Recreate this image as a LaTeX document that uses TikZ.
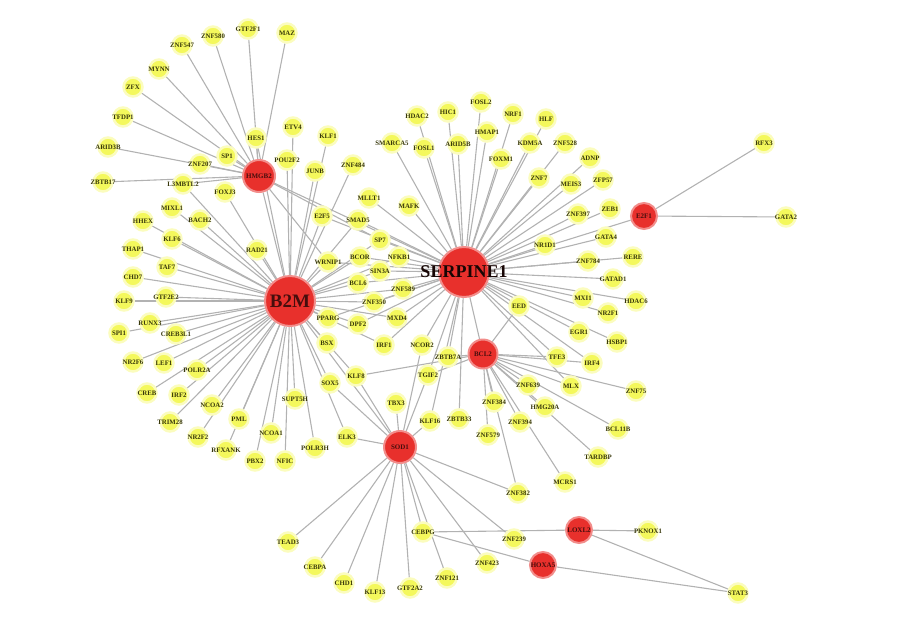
\documentclass[tikz,border=0pt]{standalone}
\usepackage{fontspec}
\setmainfont{Liberation Serif}
\usetikzlibrary{backgrounds}

% Couleurs
\definecolor{jaune}{RGB}{244,248,92}
\definecolor{rouge}{RGB}{232,48,44}
\definecolor{gris}{RGB}{178,178,178}
\definecolor{texte}{RGB}{55,55,10}

% Etiquette de largeur nulle (le cercle garde sa taille)
\newcommand{\etiq}[1]{\makebox[0pt]{#1}}

\tikzset{
  tf/.style={circle, fill=jaune, draw=jaune!40!white, line width=2.5pt,
    minimum size=19pt, inner sep=0pt, text=texte,
    font=\fontsize{6.8}{6.8}\selectfont\bfseries},
  hub/.style={circle, fill=rouge, draw=rouge!55!white, line width=2pt,
    minimum size=26pt, inner sep=0pt, text=black!70!rouge,
    font=\fontsize{7}{7}\selectfont\bfseries},
  lien/.style={draw=gris, line width=1.1pt},
}

\begin{document}
\begin{tikzpicture}[x=1pt, y=-1pt]

  \useasboundingbox (0,0) rectangle (918,616);

  % Noeuds rouges (hubs)
  \node[hub, minimum size=50pt, font=\fontsize{19}{19}\selectfont\bfseries] (B2M) at (290,301) {\etiq{B2M}};
  \node[hub, minimum size=50pt, text=black!90!rouge, font=\fontsize{18}{18}\selectfont\bfseries] (SERPINE1) at (464,272) {\etiq{SERPINE1}};
  \node[hub, minimum size=32pt] (HMGB2) at (259,176) {\etiq{HMGB2}};
  \node[hub, minimum size=29pt] (BCL2) at (483,354) {\etiq{BCL2}};
  \node[hub, minimum size=32pt] (SOD1) at (400,447) {\etiq{SOD1}};
  \node[hub] (E2F1) at (644,216) {\etiq{E2F1}};
  \node[hub] (LOXL2) at (579,530) {\etiq{LOXL2}};
  \node[hub] (HOXA5) at (543,565) {\etiq{HOXA5}};

  % Noeuds jaunes (facteurs)
  \foreach \n/\x/\y in {ZNF547/182/45, ZNF580/213/36, GTF2F1/248/29, MAZ/287/33,
      MYNN/159/69, ZFX/133/87, TFDP1/123/117, ARID3B/108/147, ZBTB17/103/182,
      HES1/256/138, SP1/227/156, ZNF207/200/164,
      ETV4/293/127, KLF1/328/136, POU2F2/287/160, JUNB/315/171, ZNF484/353/165,
      L3MBTL2/183/184, FOXJ3/225/192, MIXL1/172/208, HHEX/143/221, BACH2/200/220,
      KLF6/172/239, RAD21/257/250, THAP1/133/249, TAF7/167/267, CHD7/133/277,
      GTF2E2/166/297, KLF9/124/301, RUNX3/150/323, CREB3L1/176/334, SPI1/119/333,
      NR2F6/133/362, LEF1/164/363, POLR2A/197/370, CREB/147/393, IRF2/179/395,
      NCOA2/212/405, TRIM28/170/422, NR2F2/198/437, PML/239/419, RFXANK/226/450,
      PBX2/255/461, NFIC/285/461, NCOA1/271/433, POLR3H/315/448, SUPT5H/295/399,
      ELK3/347/437, SOX5/330/383, BSX/327/343, PPARG/328/318, E2F5/322/216,
      WRNIP1/328/262,
      SMAD5/358/220, BCOR/360/257, SP7/380/240, NFKB1/399/257, SIN3A/380/271,
      BCL6/358/283, ZNF589/403/289, ZNF350/374/302, DPF2/358/324, MXD4/397/318,
      IRF1/384/345, KLF8/356/376, MLLT1/369/198, MAFK/409/206,
      SMARCA5/392/143, HDAC2/417/116, FOSL1/424/148, HIC1/448/112, FOSL2/481/102,
      ARID5B/458/144, HMAP1/487/132, NRF1/513/114, HLF/546/119, FOXM1/501/159,
      KDM5A/530/143, ZNF528/565/143, ZNF7/539/178, ADNP/590/158, MEIS3/571/184,
      ZFP57/603/180, ZNF397/578/214, ZEB1/610/209, NR1D1/545/245, GATA4/606/237,
      ZNF784/588/261, RERE/633/257, GATAD1/613/279, MXI1/583/298, HDAC6/636/301,
      NR2F1/608/313, EED/519/306, EGR1/579/332, HSBP1/617/342, TFE3/557/357,
      IRF4/592/363, NCOR2/422/345, ZBTB7A/448/357, TGIF2/428/375, KLF16/430/421,
      ZBTB33/459/419,
      ZNF639/528/385, MLX/571/386, ZNF75/636/391, HMG20A/545/407, BCL11B/618/429,
      TARDBP/598/457, ZNF384/494/402, ZNF394/520/422, ZNF579/488/435, MCRS1/565/482,
      TBX3/396/403, ZNF382/518/493, TEAD3/288/542, CEBPA/315/567, CHD1/344/583,
      KLF13/375/592, GTF2A2/410/588, CEBPG/423/532, ZNF121/447/578, ZNF423/487/563,
      ZNF239/514/539, PKNOX1/648/531, STAT3/738/593, RFX3/764/143, GATA2/786/217}
    \node[tf] (\n) at (\x,\y) {\etiq{\n}};

  % Liens
  \begin{scope}[on background layer]
    \foreach \n in {ZNF547, ZNF580, GTF2F1, MAZ, MYNN, ZFX, TFDP1, ARID3B, ZBTB17,
        HES1, SP1, ZNF207, L3MBTL2, B2M, SERPINE1, WRNIP1, SP7}
      \draw[lien] (HMGB2) -- (\n);
    \foreach \n in {ETV4, KLF1, POU2F2, JUNB, ZNF484, L3MBTL2, FOXJ3, MIXL1, HHEX,
        BACH2, KLF6, RAD21, THAP1, TAF7, CHD7, GTF2E2, KLF9, RUNX3, CREB3L1, SPI1,
        NR2F6, LEF1, POLR2A, CREB, IRF2, NCOA2, TRIM28, NR2F2, PML, RFXANK, PBX2,
        NFIC, NCOA1, POLR3H, SUPT5H, ELK3, SOX5, BSX, PPARG, E2F5, WRNIP1, HES1,
        SMAD5, BCOR, SP7, NFKB1, SIN3A, BCL6, ZNF589, ZNF350, DPF2, MXD4, IRF1,
        KLF8, SOD1}
      \draw[lien] (B2M) -- (\n);
    \foreach \n in {SMARCA5, HDAC2, FOSL1, HIC1, FOSL2, ARID5B, HMAP1, NRF1, HLF,
        FOXM1, KDM5A, ZNF528, ZNF7, ADNP, MEIS3, ZFP57, ZNF397, ZEB1, NR1D1, GATA4,
        ZNF784, RERE, GATAD1, MXI1, HDAC6, NR2F1, EED, EGR1, HSBP1, TFE3, IRF4,
        NCOR2, ZBTB7A, TGIF2, KLF16, ZBTB33, MLLT1, MAFK, SMAD5, BCOR, SP7, NFKB1,
        SIN3A, BCL6, ZNF589, ZNF350, DPF2, MXD4, IRF1, PPARG, WRNIP1, E2F5, BCL2,
        E2F1, MLX}
      \draw[lien] (SERPINE1) -- (\n);
    \foreach \n in {ZNF639, MLX, ZNF75, HMG20A, BCL11B, TARDBP, ZNF384, ZNF394,
        ZNF579, MCRS1, ZBTB7A, EED, TFE3, IRF4, KLF8, TGIF2, ZNF382}
      \draw[lien] (BCL2) -- (\n);
    \foreach \n in {TBX3, ZNF382, TEAD3, CEBPA, CHD1, KLF13, GTF2A2, CEBPG, ZNF121,
        ZNF423, ZNF239, KLF8, SOX5, TGIF2, NCOR2, KLF16, ELK3}
      \draw[lien] (SOD1) -- (\n);
    \draw[lien] (CEBPG) -- (LOXL2);
    \draw[lien] (CEBPG) -- (HOXA5);
    \draw[lien] (LOXL2) -- (PKNOX1);
    \draw[lien] (LOXL2) -- (STAT3);
    \draw[lien] (HOXA5) -- (STAT3);
    \draw[lien] (E2F1) -- (RFX3);
    \draw[lien] (E2F1) -- (GATA2);
  \end{scope}

\end{tikzpicture}
\end{document}
